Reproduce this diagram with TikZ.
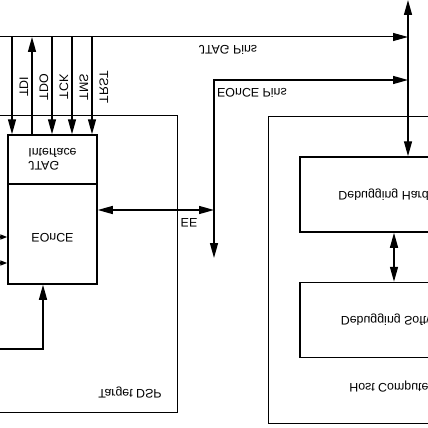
\documentclass[tikz,border=0pt]{standalone}
\usepackage{fontspec}
\setmainfont{Liberation Sans}
\usetikzlibrary{arrows.meta}

\begin{document}
\begin{tikzpicture}[x=1pt,y=1pt,yscale=-1,
        every node/.append style={transform shape,font=\fontsize{12.4}{13.5}\selectfont},
        blk/.style={draw,line width=1pt,inner sep=0pt},
        inblk/.style={draw,line width=1.5pt,inner sep=0pt},
        arr/.style={line width=1.4pt,-{Triangle[length=15pt,width=8pt]}},
        darr/.style={line width=1.4pt,{Triangle[length=15pt,width=8pt]}-{Triangle[length=15pt,width=8pt]}},
        sarr/.style={line width=1.4pt,-{Triangle[length=7pt,width=5pt]}}]
        \useasboundingbox (0,0) rectangle (428,428);
        \clip (0,0) rectangle (428,428);
        \fill[white] (0,0) rectangle (428,428);
        % target side (picture is flipped: north anchors lie at the bottom)
        \node[blk,minimum width=217pt,minimum height=297pt] (dsp) at (68.5,263.5) {};
        \node (dsplbl) at (130,393) {Target DSP};
        \node[inblk,minimum width=89pt,minimum height=49pt,align=left] (jtag) at (52.5,159.5) {JTAG\\Interface};
        \node[inblk,minimum width=89pt,minimum height=100pt] (eonce) at (52.5,234) {};
        \node (eoncelbl) at (52.5,238) {EOnCE};
        % host side
        \node[blk,minimum width=246pt,minimum height=307pt] (host) at (391,269.5) {};
        \node (hostlbl) at (391,387) {Host Computer};
        \node[inblk,minimum width=194pt,minimum height=75pt] (hw) at (397,194.5) {Debugging Hardware};
        \node[inblk,minimum width=194pt,minimum height=75pt] (sw) at (397,320) {Debugging Software};
        % pins
        \coordinate (busL) at (0,37);
        \coordinate (busR) at (408,37);
        \coordinate (top) at (408,0);
        \coordinate (pinR) at (408,80);
        \coordinate (ee) at (214,210);
        \coordinate (eepin) at (214,258);
        \draw[line width=1pt,-{Triangle[length=15pt,width=8pt]}] (busL) -- (busR);
        \node (jtagpins) at (228,50) {JTAG Pins};
        \draw[darr] (top) -- (hw.south -| top);
        \draw[darr] (eepin) |- (pinR);
        \node (eoncepins) at (252,93) {EOnCE Pins};
        \draw[darr] (eonce.east |- ee) -- (ee);
        \node (eelbl) at (189,223) {EE};
        \foreach \x/\sig in {12/TDI,52/TCK,72/TMS,92/TRST}
        \draw[arr] (\x,0 |- busL) -- (\x,0 |- jtag.south);
        \draw[arr] (32,0 |- jtag.south) -- (32,0 |- busL);
        \foreach \x/\sig in {12/TDI,32/TDO,52/TCK,72/TMS,92/TRST}
        \node[rotate=-90] (\sig) at (\x+12,87) {\sig};
        % outside target
        \draw[sarr] (-5,237) -- (eonce.west |- 0,237);
        \draw[sarr] (-5,263) -- (eonce.west |- 0,263);
        \coordinate (ext) at (-5,349);
        \draw[arr] (ext) -| (43,0 |- eonce.north);
        \draw[darr] (394,0 |- hw.north) -- (394,0 |- sw.south);
\end{tikzpicture}
\end{document}
